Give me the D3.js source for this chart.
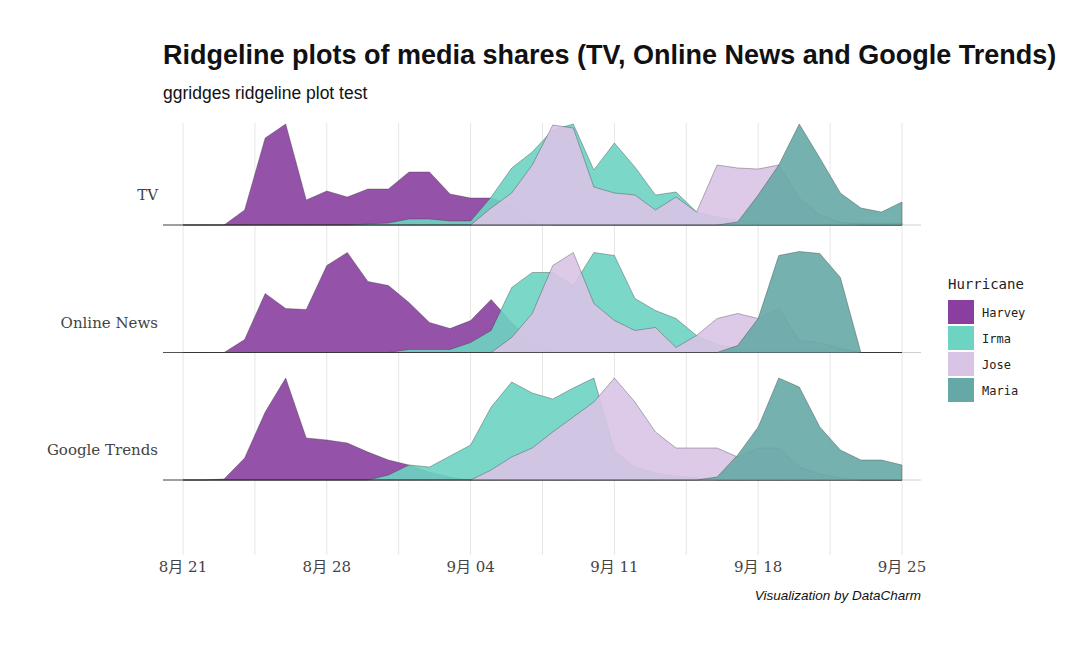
<!DOCTYPE html>
<html><head><meta charset="utf-8">
<script src="https://cdn.jsdelivr.net/npm/d3@7"></script>
<style>body{margin:0;background:#fff}</style></head>
<body><svg id="c" width="1080" height="648"></svg>
<script>
const hurricanes = ["Harvey","Irma","Jose","Maria"];
const colors = ["#8A3FA0","#6DD3C2","#D9C4E6","#66A8A6"];
const media = ["TV","Online News","Google Trends"];
const tickLabels = ["8月 21","8月 28","9月 04","9月 11","9月 18","9月 25"];
const z = n => Array(n).fill(0);
// daily shares, Aug 21 .. Sep 25 (36 days)
const tvHarvey = [0,0,0,15,87,101,25,34,28,36,36,53,53,31,27,27,20,5,...z(18)];
const tvIrma   = [...z(9),1,2,6,6,4,4,28,57,73,95,101,55,82,58,30,33,13,8,5,3,2,2,2,2,2,2,2];
const tvJose   = [...z(15),17,32,60,100,97,38,32,30,15,28,13,60,57,56,60,27,10,3,0,0,0];
const tvMaria  = [...z(27),3,30,60,101,67,32,17,13,23];
const onHarvey = [0,0,0,13,59,44,43,87,100,71,67,50,30,24,32,53,30,10,3,...z(17)];
const onIrma   = [...z(11),3,3,3,10,22,65,80,80,67,100,97,54,42,34,17,8,4,3,3,3,3,3,0,0,0];
const onJose   = [...z(16),15,39,87,100,49,32,22,25,5,17,34,39,34,44,12,10,4,0,0,0];
const onMaria  = [...z(27),7,34,97,101,99,75,0,0,0];
const gtHarvey = [0,0,1,22,68,102,42,40,37,28,20,15,8,3,...z(22)];
const gtIrma   = [...z(10),5,15,13,24,35,73,98,87,81,92,102,30,13,7,4,2,...z(10)];
const gtJose   = [...z(15),10,23,32,48,63,78,102,78,48,32,32,32,23,32,32,13,6,2,0,0,0];
const gtMaria  = [...z(26),3,25,53,102,93,53,30,20,20,15];
const series = [[tvHarvey,tvIrma,tvJose,tvMaria],[onHarvey,onIrma,onJose,onMaria],[gtHarvey,gtIrma,gtJose,gtMaria]];

const svg = d3.select("#c");
const start = new Date(2017,7,21), end = new Date(2017,8,25);
const x = d3.scaleTime().domain([start,end]).range([183,902]);
const dates = d3.range(36).map(i=>d3.timeDay.offset(start,i));
const baseY = d3.scalePoint().domain(media).range([225,480]);
const h = d3.scaleLinear().domain([0,100]).range([0,100]);

const grid = svg.append("g");
d3.range(11).forEach(i=>{
  const xv = x(d3.timeHour.offset(start, i*84));
  grid.append("line").attr("x1",xv).attr("x2",xv).attr("y1",123).attr("y2",555).attr("stroke","#e6e6e6").attr("stroke-width",1);
});
media.forEach(m=>{
  grid.append("line").attr("x1",163).attr("x2",921).attr("y1",baseY(m)).attr("y2",baseY(m)).attr("stroke","#d0d0d0");
});
media.forEach((m,mi)=>{
  const b = baseY(m);
  const area = d3.area().x((d,i)=>x(dates[i])).y0(b).y1(d=>b-h(d));
  series[mi].forEach((vals,si)=>{
    svg.append("path").datum(vals).attr("d",area).attr("fill",colors[si]).attr("fill-opacity",0.9)
      .attr("stroke","#333").attr("stroke-opacity",0.6).attr("stroke-width",0.6);
  });
  svg.append("line").attr("x1",163).attr("x2",183).attr("y1",b).attr("y2",b).attr("stroke","#333").attr("stroke-width",0.8);
  svg.append("text").attr("x",158).attr("y",b-25).attr("text-anchor","end").attr("font-family","DejaVu Serif, serif").attr("font-size",15).attr("fill","#444").text(m);
});
tickLabels.forEach((t,i)=>{
  svg.append("text").attr("x",x(d3.timeDay.offset(start,i*7))).attr("y",572).attr("text-anchor","middle")
    .attr("font-family","DejaVu Serif, Noto Sans CJK SC").attr("font-size",15).attr("fill","#444").text(t);
});
svg.append("text").attr("x",163).attr("y",64).attr("font-family","Liberation Sans, Arial").attr("font-weight","bold").attr("font-size",27).attr("fill","#111").text("Ridgeline plots of media shares (TV, Online News and Google Trends)");
svg.append("text").attr("x",163).attr("y",99).attr("font-family","Liberation Sans, Arial").attr("font-size",17.5).attr("fill","#111").text("ggridges ridgeline plot test");
svg.append("text").attr("x",921).attr("y",600).attr("text-anchor","end").attr("font-family","Liberation Sans, Arial").attr("font-style","italic").attr("font-size",13.5).attr("fill","#111").text("Visualization by DataCharm");
svg.append("text").attr("x",948).attr("y",289).attr("font-family","DejaVu Sans Mono, monospace").attr("font-size",14).attr("fill","#222").text("Hurricane");
hurricanes.forEach((n,i)=>{
  svg.append("rect").attr("x",948).attr("y",300+i*26).attr("width",26).attr("height",24).attr("fill",colors[i]);
  svg.append("text").attr("x",982).attr("y",317+i*26).attr("font-family","DejaVu Sans Mono, monospace").attr("font-size",12).attr("fill","#222").text(n);
});
</script></body></html>
